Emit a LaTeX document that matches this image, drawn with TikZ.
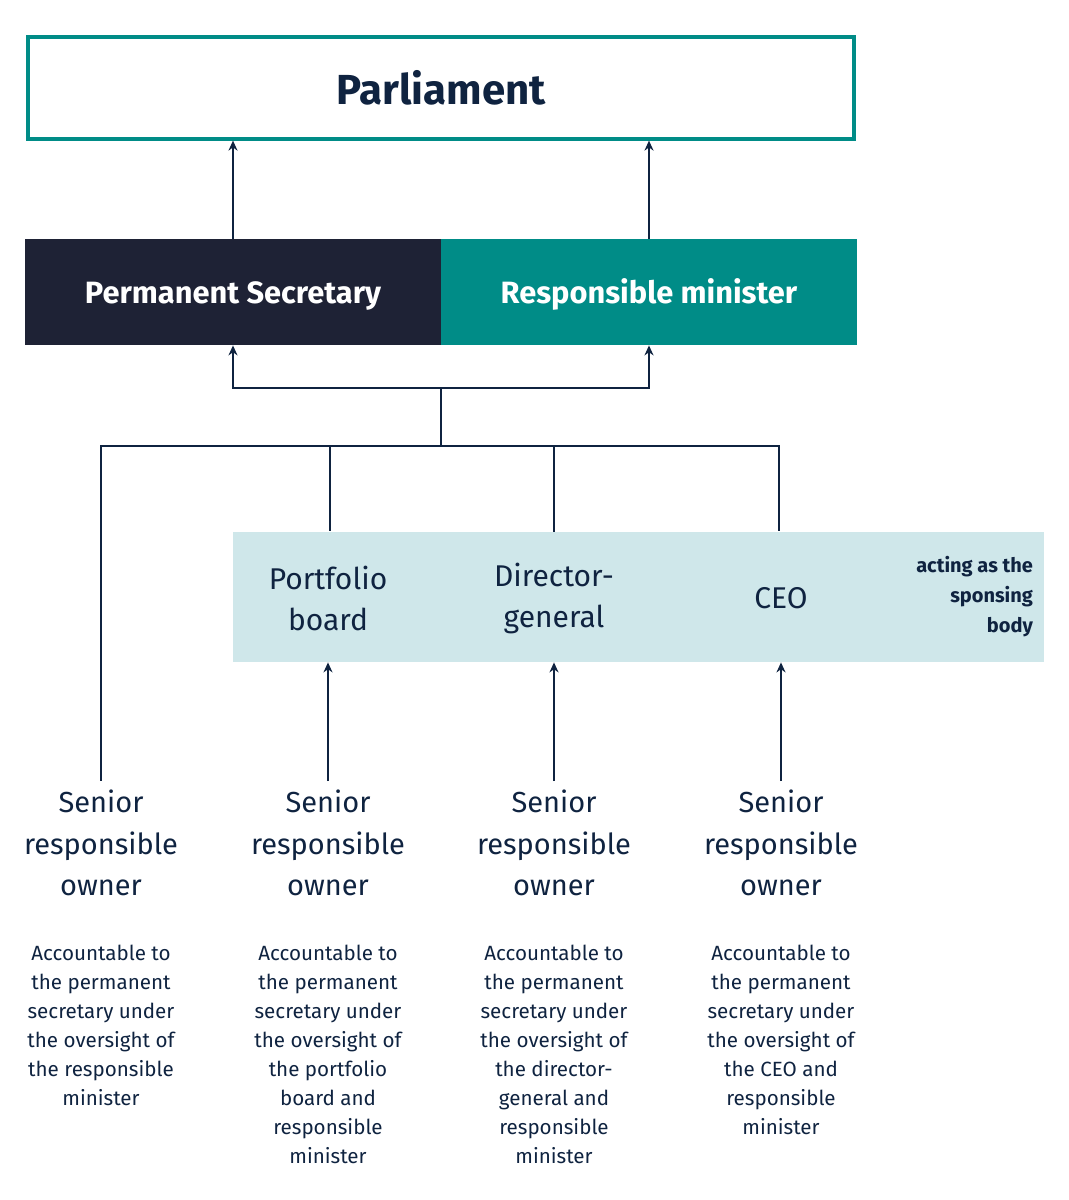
\documentclass[tikz,border=0pt]{standalone}
\usepackage{fontspec}
\setmainfont{Fira Sans}
\usetikzlibrary{arrows.meta}
\definecolor{navy}{HTML}{0F2340}
\definecolor{darkbox}{HTML}{1E2235}
\definecolor{teal}{HTML}{008C87}
\definecolor{lightbox}{HTML}{CFE7EA}

\begin{document}
\begin{tikzpicture}[x=0.5pt,y=-0.5pt,
            line node/.style={draw=navy, line width=1.2pt},
            arr/.style={navy, line width=1.2pt, -{Stealth[length=5pt,width=4.5pt]}},
            head box/.style={rectangle, minimum width=208pt, minimum height=53pt, inner sep=0pt, text height=14pt, text depth=3pt, text=white, font=\fontsize{15.4}{18}\selectfont\bfseries},
            role node/.style={align=center, text=navy, font=\fontsize{15}{20.5}\selectfont},
            sro node/.style={align=center, text=navy, font=\fontsize{14.5}{20.75}\selectfont},
            note node/.style={align=center, anchor=north, inner sep=0pt, text=navy, font=\fontsize{10.3}{14.5}\selectfont},
            ]
            \useasboundingbox (0,0) rectangle (1069,1200);

            \node[rectangle, draw=teal, line width=1.6pt, minimum width=413pt, minimum height=51pt, text=navy,
                  font=\fontsize{21}{25}\selectfont\bfseries] (parl) at (441,88) {Parliament};

            \node[head box, fill=darkbox] (ps) at (233,292) {Permanent Secretary};
            \node[head box, fill=teal] (rm) at (649,292) {Responsible minister};

            \node[rectangle, fill=lightbox, minimum width=405.5pt, minimum height=65pt, inner sep=0pt] (sb) at (638.5,597) {};
            \node[role node] (pb) at (328,598) {Portfolio\\board};
            \node[role node] (dg) at (554,598) {Director-\\general};
            \node[role node] (ceo) at (781,598) {CEO};
            \node[align=right, anchor=east, text=navy, font=\fontsize{10}{15}\selectfont\bfseries] (body) at (1040,597) {acting as the\\sponsing\\body};

            \node[sro node] (sro1) at (101,843) {Senior\\responsible\\owner};
            \node[sro node] (sro2) at (328,843) {Senior\\responsible\\owner};
            \node[sro node] (sro3) at (554,843) {Senior\\responsible\\owner};
            \node[sro node] (sro4) at (781,843) {Senior\\responsible\\owner};

            \node[note node] (acc1) at (101,945) {Accountable to\\the permanent\\secretary under\\the oversight of\\the responsible\\minister};
            \node[note node] (acc2) at (328,945) {Accountable to\\the permanent\\secretary under\\the oversight of\\the portfolio\\board and\\responsible\\minister};
            \node[note node] (acc3) at (554,945) {Accountable to\\the permanent\\secretary under\\the oversight of\\the director-\\general and\\responsible\\minister};
            \node[note node] (acc4) at (781,945) {Accountable to\\the permanent\\secretary under\\the oversight of\\the CEO and\\responsible\\minister};

            \coordinate (bar) at (441,388);
            \coordinate (hub) at (441,446);
            \coordinate (end1) at (101,781);

            % up to parliament
            \draw[arr] (ps.north) -- (ps.north |- parl.south);
            \draw[arr] (rm.north) -- (rm.north |- parl.south);

            % bracket below the two heads
            \draw[arr] (bar) -| (ps.south);
            \draw[arr] (bar) -| (rm.south);
            \draw[line node] (bar) -- (hub);

            % branches
            \draw[line node] (hub) -| (end1);
            \draw[line node] (hub) -| (330,531);
            \draw[line node] (hub) -| (dg.north |- sb.north);
            \draw[line node] (hub) -| (779,531);

            % owners up to the sponsoring body
            \draw[arr] (328,781) -- (pb |- sb.south);
            \draw[arr] (554,781) -- (dg |- sb.south);
            \draw[arr] (781,781) -- (ceo |- sb.south);
        \end{tikzpicture}
\end{document}
